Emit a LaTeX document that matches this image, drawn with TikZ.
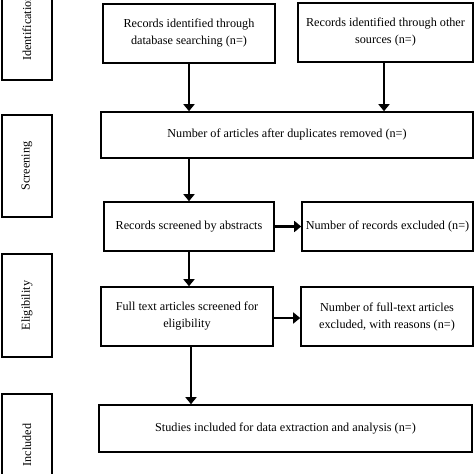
\documentclass[tikz,border=0pt]{standalone}
\usepackage{fontspec}
\setmainfont{Liberation Serif}
\usetikzlibrary{arrows.meta}
\tikzset{
  box/.style={draw=black, line width=1.6pt, fill=white, inner sep=1pt, align=center,
    font=\fontsize{12.2}{17}\selectfont},
  phase/.style={draw=black, line width=1.6pt, fill=white, minimum width=50pt,
    minimum height=102pt, inner sep=0pt},
  phaselabel/.style={rotate=90, font=\fontsize{12.2}{15}\selectfont},
  flow/.style={line width=2.4pt, -{Triangle[width=11pt,length=7pt]}}
}
\begin{document}
\begin{tikzpicture}[x=1pt,y=-1pt]
\useasboundingbox (0,0) rectangle (474,474);
\clip (0,0) rectangle (474,474);
% phase boxes
\node[phase, minimum height=104pt] (pid) at (27,28) {};
\node[phaselabel] (lid) at (pid.center) {Identification};
\node[phase] (psc) at (27,166) {};
\node[phaselabel] (lsc) at (psc.center) {Screening};
\node[phase, minimum height=103pt] (pel) at (27,305.5) {};
\node[phaselabel] (lel) at (pel.center) {Eligibility};
\node[phase] (pin) at (27,445) {};
\node[phaselabel] (lin) at (pin.center) {Included};
% flow boxes
\node[box, minimum width=172pt, minimum height=59pt] (b1) at (189,33.5) {Records identified through\\database searching (n=)};
\node[box, minimum width=175pt, minimum height=59pt] (b2) at (385.5,32.5) {Records identified through other\\sources (n=)};
\node[box, minimum width=372pt, minimum height=46pt] (b3) at (287,135) {Number of articles after duplicates removed (n=)};
\node[box, minimum width=170pt, minimum height=49pt] (b4) at (189,226.5) {Records screened by abstracts};
\node[box, minimum width=171pt, minimum height=49pt, inner sep=0pt] (b5) at (387.5,226.5) {Number of records excluded (n=)};
\node[box, minimum width=172pt, minimum height=59pt] (b6) at (187,316.5) {Full text articles screened for\\eligibility};
\node[box, minimum width=172pt, minimum height=59pt] (b7) at (387,316.5) {Number of full-text articles\\excluded, with reasons (n=)};
\node[box, minimum width=373pt, minimum height=47pt] (b8) at (285.5,428.5) {Studies included for data extraction and analysis (n=)};
% connectors
\draw[flow] (b1.south) -- (b1.south |- b3.north);
\draw[flow] ([xshift=-1.5pt]b2.south) -- ([xshift=-1.5pt]b2.south |- b3.north);
\draw[flow] (b4.north |- b3.south) -- (b4.north);
\draw[flow] (b4.east) -- (b5.west);
\draw[flow] (b4.south) -- (b4.south |- b6.north);
\draw[flow] ([yshift=-1.5pt]b6.east) -- ([yshift=-1.5pt]b6.east -| b7.west);
\draw[flow] ([xshift=4pt]b6.south) -- ([xshift=4pt]b6.south |- b8.north);
\end{tikzpicture}
\end{document}
